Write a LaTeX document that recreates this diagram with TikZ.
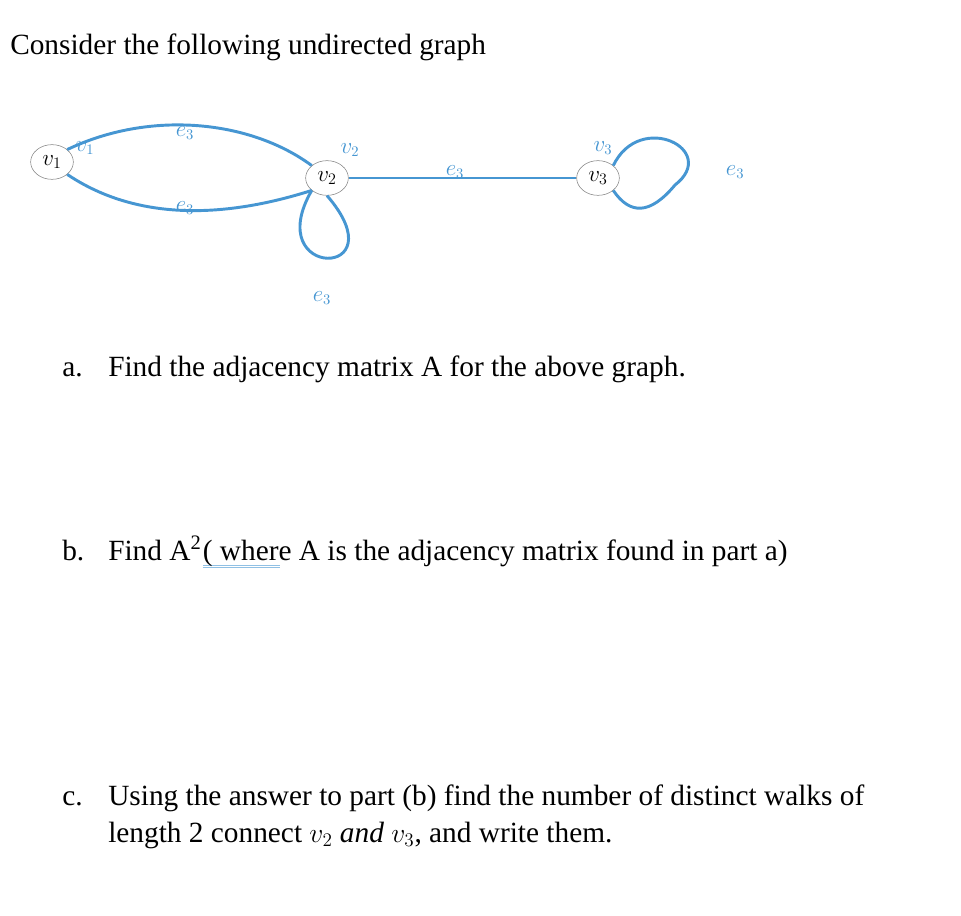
\documentclass[tikz,border=0pt]{standalone}
\usepackage{fontspec}
\setmainfont{Liberation Serif}
\usetikzlibrary{shapes.geometric}
\definecolor{eb}{RGB}{70,150,210}
\begin{document}
\begin{tikzpicture}[x=0.75pt,y=-0.75pt,
  vert/.style={draw=gray,ellipse,minimum width=32pt,minimum height=26pt,inner sep=0pt,font=\fontsize{18}{20}\selectfont},
  edge/.style={draw=eb,line width=2.2pt},
  lab/.style={text=eb,font=\fontsize{16}{18}\selectfont,inner sep=0pt},
  txt/.style={anchor=base west,inner sep=0pt,font=\fontsize{22}{26}\selectfont}]
\useasboundingbox (0,0) rectangle (961,916);
\node[vert] (v1) at (52,162) {$v_1$};
\node[vert] (v2) at (327,178) {$v_2$};
\node[vert] (v3) at (598,178) {$v_3$};
\draw[edge] (v1.north east) .. controls (150,110) and (250,120) .. (v2.north west);
\draw[edge] (v1.south east) .. controls (150,230) and (250,210) .. (v2.south west);
\draw[edge] (v2.east) -- (v3.west);
\draw[edge] (v2.south west) .. controls (260,280) and (400,280) .. (v2.south);
\draw[edge] (v3.north east) .. controls (640,110) and (720,150) .. (675,185) .. controls (650,215) and (630,215) .. (v3.south east);
\node[lab] (l1) at (85,148) {$v_1$};
\node[lab] (l2) at (185,133) {$e_3$};
\node[lab] (l3) at (185,208) {$e_3$};
\node[lab] (l4) at (350,150) {$v_2$};
\node[lab] (l5) at (455,172) {$e_3$};
\node[lab] (l6) at (603,148) {$v_3$};
\node[lab] (l7) at (735,172) {$e_3$};
\node[lab] (l8) at (322,298) {$e_3$};
\node[txt] (t0) at (10,55) {Consider the following undirected graph};
\node[txt] (ta) at (62,377) {a.};
\node[txt] (ta2) at (108,377) {Find the adjacency matrix A for the above graph.};
\node[txt] (tb) at (62,560) {b.};
\node[txt] (tb2) at (108,560) {Find A\textsuperscript{2}\kern1pt\raisebox{0pt}[0pt][0pt]{\rlap{\color{eb!60}\rule[-4pt]{58pt}{0.6pt}}\rlap{\color{eb!60}\rule[-6pt]{58pt}{0.6pt}}}( where A is the adjacency matrix found in part a)};
\node[txt] (tc) at (62,805) {c.};
\node[txt] (tc2) at (108,805) {Using the answer to part (b) find the number of distinct walks of};
\node[txt] (tc3) at (108,842) {length 2 connect $v_2$ \textit{and} $v_3$, and write them.};
\end{tikzpicture}
\end{document}
